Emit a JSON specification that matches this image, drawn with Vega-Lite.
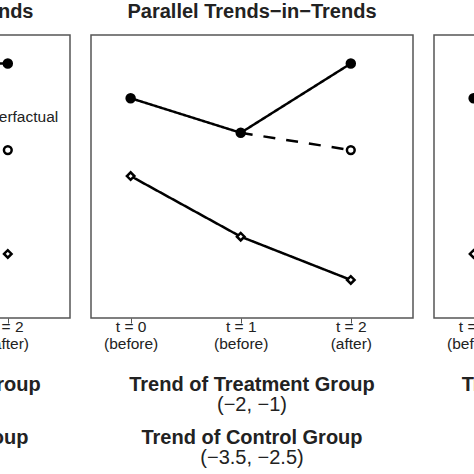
{
  "$schema": "https://vega.github.io/schema/vega-lite/v6.json",
  "padding": {"left": -253, "top": 1, "right": -283, "bottom": 0},
  "background": "white",
  "config": {
    "font": "Liberation Sans",
    "view": {"stroke": "#555555", "strokeWidth": 1.5},
    "title": {"fontSize": 20, "fontWeight": "bold", "color": "#222222", "baseline": "alphabetic", "offset": 13, "anchor": "middle", "font": "Liberation Sans"},
    "axisX": {
      "domain": false,
      "grid": false,
      "ticks": true,
      "tickColor": "#555555",
      "tickSize": 5,
      "tickWidth": 1,
      "labelPadding": -4,
      "labelFontSize": 15.5,
      "labelColor": "#222222",
      "labelLineHeight": 17,
      "labelFlush": false,
      "labelOverlap": false,
      "labelExpr": "['t = ' + datum.value, datum.value < 2 ? '(before)' : '(after)']",
      "title": null
    }
  },
  "datasets": {
    "points": [
      {"panel": "A", "t": 1, "series": "Treatment", "value": 14.5},
      {"panel": "A", "t": 2, "series": "Treatment", "value": 14.5},
      {"panel": "A", "t": 2, "series": "Counterfactual", "value": 9.5},
      {"panel": "A", "t": 2, "series": "Control", "value": 3.5},
      {"panel": "B", "t": 0, "series": "Treatment", "value": 12.5},
      {"panel": "B", "t": 1, "series": "Treatment", "value": 10.5},
      {"panel": "B", "t": 2, "series": "Treatment", "value": 14.5},
      {"panel": "B", "t": 1, "series": "Counterfactual", "value": 10.5},
      {"panel": "B", "t": 2, "series": "Counterfactual", "value": 9.5},
      {"panel": "B", "t": 0, "series": "Control", "value": 8},
      {"panel": "B", "t": 1, "series": "Control", "value": 4.5},
      {"panel": "B", "t": 2, "series": "Control", "value": 2},
      {"panel": "C", "t": 0, "series": "Treatment", "value": 12.5},
      {"panel": "C", "t": 0, "series": "Control", "value": 3.5}
    ],
    "notes": [
      {"panel": "A", "group": "Treatment", "heading": "Change in Treatment Group", "range": ""},
      {"panel": "A", "group": "Control", "heading": "Change in Control Group", "range": ""},
      {"panel": "B", "group": "Treatment", "heading": "Trend of Treatment Group", "range": "(−2, −1)"},
      {"panel": "B", "group": "Control", "heading": "Trend of Control Group", "range": "(−3.5, −2.5)"},
      {"panel": "C", "group": "Treatment", "heading": "Trends in Treatment Groups", "range": ""},
      {"panel": "C", "group": "Control", "heading": "Trend of Control Group", "range": ""}
    ]
  },
  "columns": 3,
  "bounds": "flush",
  "spacing": {"row": 73, "column": 21},
  "concat": [
    {
      "width": 322, "height": 283,
      "title": {"text": "Traditional Parallel Trends"},
      "data": {"name": "points"},
      "transform": [{"filter": "datum.panel == 'A'"}],
      "encoding": {
        "x": {"field": "t", "type": "quantitative", "scale": {"domain": [-0.36, 2.565]}, "axis": {"values": [0, 1, 2]}},
        "y": {"field": "value", "type": "quantitative", "scale": {"domain": [-0.2, 16.15]}, "axis": null}
      },
      "layer": [
        {
          "mark": {"type": "line", "color": "black", "strokeWidth": 2.5},
          "encoding": {
            "detail": {"field": "series"},
            "strokeDash": {"field": "series", "scale": {"domain": ["Treatment", "Counterfactual", "Control"], "range": [[1, 0], [12, 11], [1, 0]]}, "legend": null}
          }
        },
        {
          "transform": [{"filter": "datum.series != 'Counterfactual' || datum.t == 2"}],
          "mark": {"type": "point", "stroke": "black", "strokeWidth": 2.5, "opacity": 1},
          "encoding": {
            "shape": {"field": "series", "scale": {"domain": ["Treatment", "Counterfactual", "Control"], "range": ["circle", "circle", "diamond"]}, "legend": null},
            "fill": {"field": "series", "scale": {"domain": ["Treatment", "Counterfactual", "Control"], "range": ["black", "white", "white"]}, "legend": null},
            "size": {"field": "series", "scale": {"domain": ["Treatment", "Counterfactual", "Control"], "range": [64, 56, 45]}, "legend": null}
          }
        },
        {
          "transform": [{"filter": "datum.series == 'Counterfactual'"}],
          "mark": {"type": "text", "fontSize": 15.5, "color": "#222222", "dy": -33},
          "encoding": {"text": {"field": "series"}}
        }
      ]
    },
    {
      "width": 322, "height": 283,
      "title": {"text": "Parallel Trends−in−Trends"},
      "data": {"name": "points"},
      "transform": [{"filter": "datum.panel == 'B'"}],
      "encoding": {
        "x": {"field": "t", "type": "quantitative", "scale": {"domain": [-0.36, 2.565]}, "axis": {"values": [0, 1, 2]}},
        "y": {"field": "value", "type": "quantitative", "scale": {"domain": [-0.2, 16.15]}, "axis": null}
      },
      "layer": [
        {
          "mark": {"type": "line", "color": "black", "strokeWidth": 2.5},
          "encoding": {
            "detail": {"field": "series"},
            "strokeDash": {"field": "series", "scale": {"domain": ["Treatment", "Counterfactual", "Control"], "range": [[1, 0], [12, 11], [1, 0]]}, "legend": null}
          }
        },
        {
          "transform": [{"filter": "datum.series != 'Counterfactual' || datum.t == 2"}],
          "mark": {"type": "point", "stroke": "black", "strokeWidth": 2.5, "opacity": 1},
          "encoding": {
            "shape": {"field": "series", "scale": {"domain": ["Treatment", "Counterfactual", "Control"], "range": ["circle", "circle", "diamond"]}, "legend": null},
            "fill": {"field": "series", "scale": {"domain": ["Treatment", "Counterfactual", "Control"], "range": ["black", "white", "white"]}, "legend": null},
            "size": {"field": "series", "scale": {"domain": ["Treatment", "Counterfactual", "Control"], "range": [64, 56, 45]}, "legend": null}
          }
        }
      ]
    },
    {
      "width": 322, "height": 283,
      "data": {"name": "points"},
      "transform": [{"filter": "datum.panel == 'C'"}],
      "encoding": {
        "x": {"field": "t", "type": "quantitative", "scale": {"domain": [-0.36, 2.565]}, "axis": {"values": [0, 1, 2]}},
        "y": {"field": "value", "type": "quantitative", "scale": {"domain": [-0.2, 16.15]}, "axis": null}
      },
      "layer": [
        {
          "mark": {"type": "point", "stroke": "black", "strokeWidth": 2.5, "opacity": 1},
          "encoding": {
            "shape": {"field": "series", "scale": {"domain": ["Treatment", "Counterfactual", "Control"], "range": ["circle", "circle", "diamond"]}, "legend": null},
            "fill": {"field": "series", "scale": {"domain": ["Treatment", "Counterfactual", "Control"], "range": ["black", "white", "white"]}, "legend": null},
            "size": {"field": "series", "scale": {"domain": ["Treatment", "Counterfactual", "Control"], "range": [64, 56, 45]}, "legend": null}
          }
        }
      ]
    },
    {
      "width": 322, "height": 53,
      "view": {"stroke": null},
      "data": {"name": "notes"},
      "transform": [{"filter": "datum.panel == 'A'"}],
      "encoding": {"y": {"field": "group", "type": "nominal", "scale": {"type": "point", "domain": ["Treatment", "Control"], "padding": 0}, "axis": null}},
      "layer": [
        {"mark": {"type": "text", "fontSize": 20, "fontWeight": "bold", "baseline": "alphabetic", "color": "#222222"}, "encoding": {"text": {"field": "heading"}}},
        {"mark": {"type": "text", "fontSize": 20, "baseline": "alphabetic", "color": "#222222", "dy": 20}, "encoding": {"text": {"field": "range"}}}
      ]
    },
    {
      "width": 322, "height": 53,
      "view": {"stroke": null},
      "data": {"name": "notes"},
      "transform": [{"filter": "datum.panel == 'B'"}],
      "encoding": {"y": {"field": "group", "type": "nominal", "scale": {"type": "point", "domain": ["Treatment", "Control"], "padding": 0}, "axis": null}},
      "layer": [
        {"mark": {"type": "text", "fontSize": 20, "fontWeight": "bold", "baseline": "alphabetic", "color": "#222222"}, "encoding": {"text": {"field": "heading"}}},
        {"mark": {"type": "text", "fontSize": 20, "baseline": "alphabetic", "color": "#222222", "dy": 20}, "encoding": {"text": {"field": "range"}}}
      ]
    },
    {
      "width": 322, "height": 53,
      "view": {"stroke": null},
      "data": {"name": "notes"},
      "transform": [{"filter": "datum.panel == 'C'"}],
      "encoding": {"y": {"field": "group", "type": "nominal", "scale": {"type": "point", "domain": ["Treatment", "Control"], "padding": 0}, "axis": null}},
      "layer": [
        {"mark": {"type": "text", "fontSize": 20, "fontWeight": "bold", "baseline": "alphabetic", "color": "#222222"}, "encoding": {"text": {"field": "heading"}}},
        {"mark": {"type": "text", "fontSize": 20, "baseline": "alphabetic", "color": "#222222", "dy": 20}, "encoding": {"text": {"field": "range"}}}
      ]
    }
  ]
}
